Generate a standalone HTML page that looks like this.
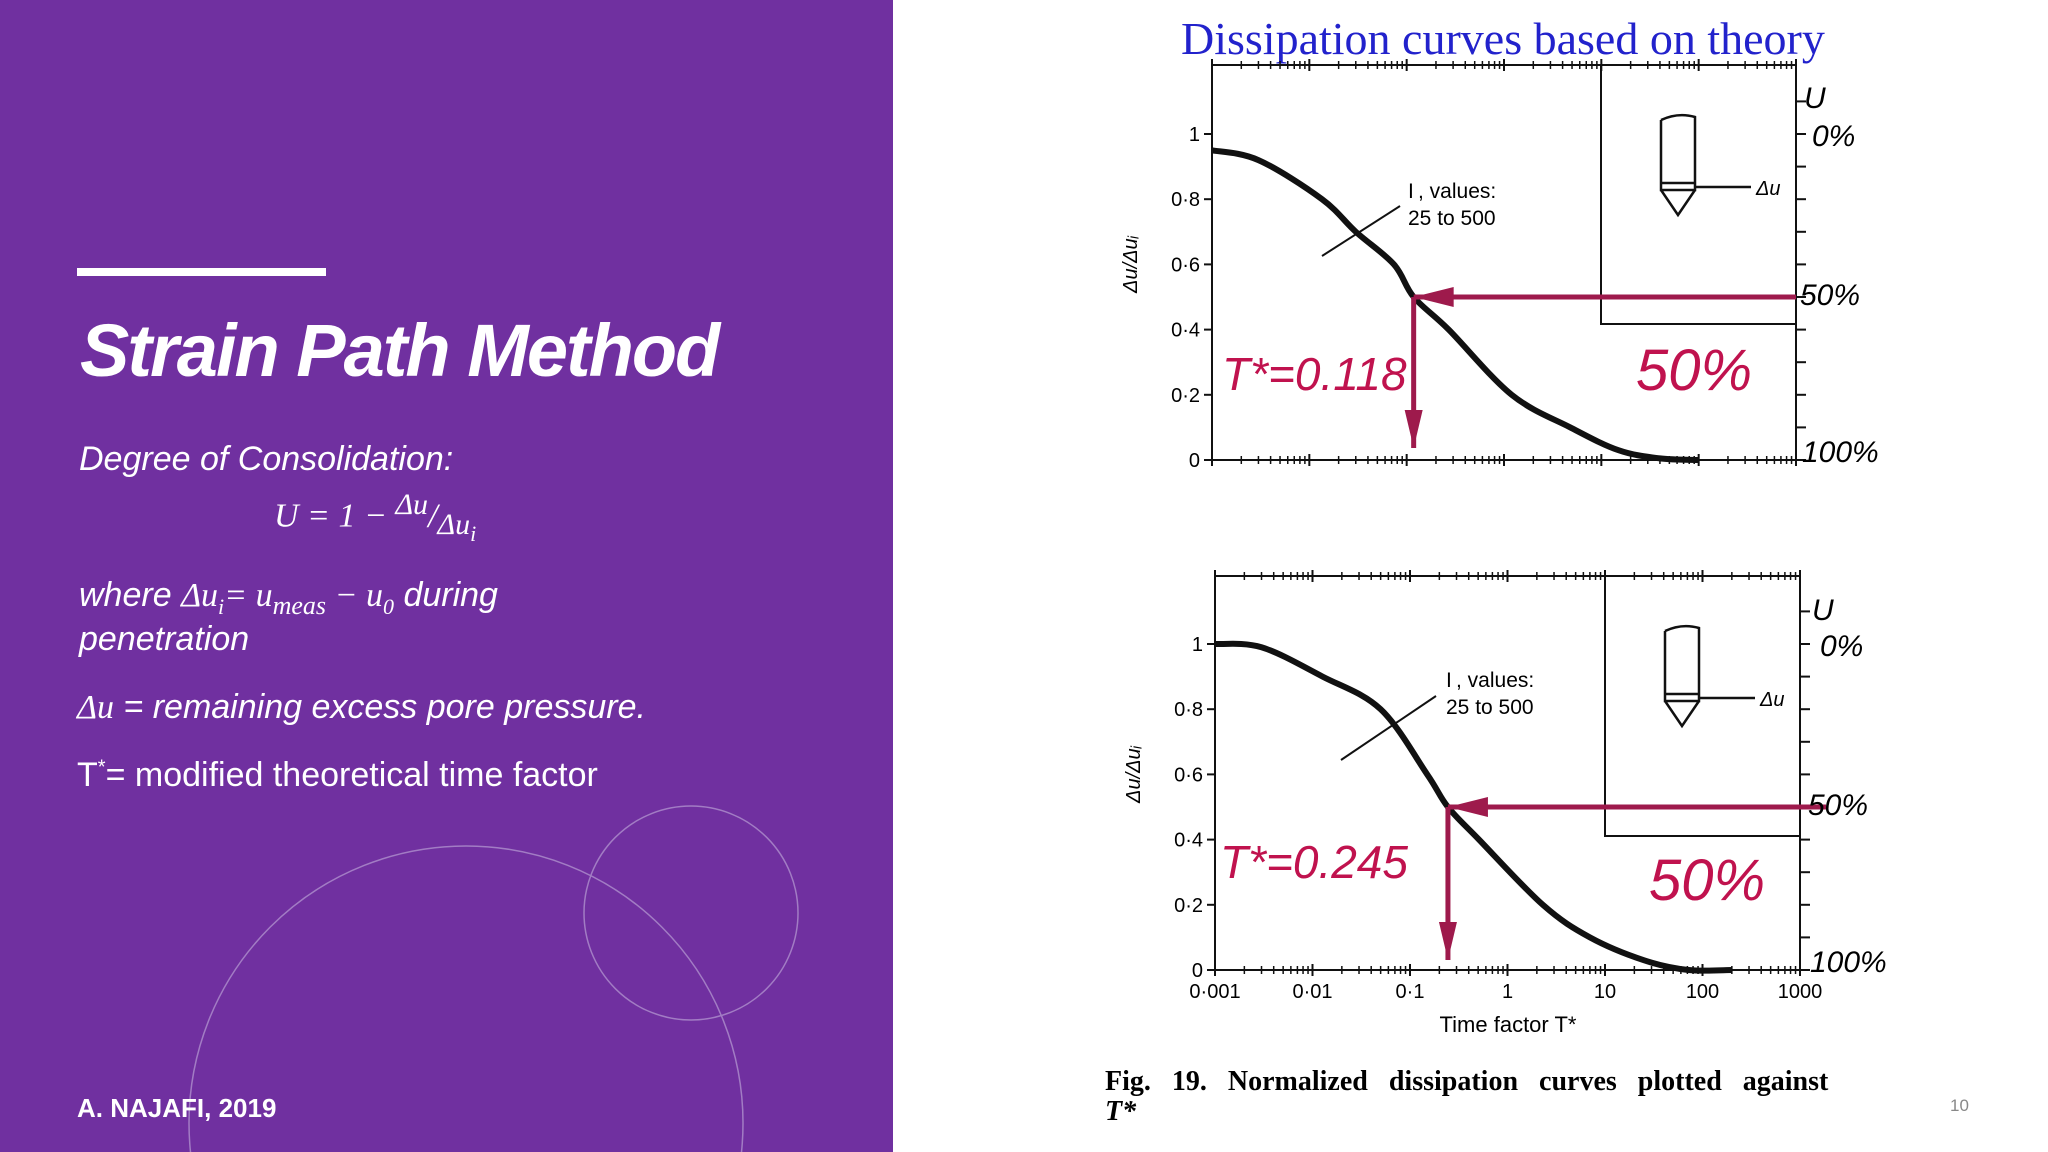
<!DOCTYPE html>
<html><head><meta charset="utf-8"><style>
html,body{margin:0;padding:0}
body{width:2048px;height:1152px;position:relative;overflow:hidden;background:#fff;font-family:"Liberation Sans",sans-serif}
.l{position:absolute;color:#fff;white-space:nowrap}
</style></head><body>
<div style="position:absolute;left:0;top:0;width:893px;height:1152px;background:#7030a0;overflow:hidden">
<svg width="893" height="1152" style="position:absolute;left:0;top:0">
<circle cx="466" cy="1123" r="277" fill="none" stroke="#a27cc4" stroke-width="1.5"/>
<circle cx="691" cy="913" r="107" fill="none" stroke="#a27cc4" stroke-width="1.5"/>
</svg>
<div style="position:absolute;left:77px;top:268px;width:249px;height:8px;background:#fff"></div>
<div class="l" style="left:80px;top:308px;font-size:74px;font-weight:bold;font-style:italic;letter-spacing:-2px">Strain Path Method</div>
<div class="l" style="left:79px;top:440px;font-size:34px;font-style:italic">Degree of Consolidation:</div>
<div class="l" style="left:274px;top:488px;font-size:34px;font-style:italic;font-family:'Liberation Serif',serif">U = 1 − <sup style="font-size:30px">Δu</sup>/<sub style="font-size:30px">Δu<sub style="font-size:22px">i</sub></sub></div>
<div class="l" style="left:79px;top:576px;font-size:34px;font-style:italic">where <span style="font-family:'Liberation Serif',serif">Δu<sub style="font-size:22px">i</sub>= u<sub style="font-size:26px">meas</sub> − u<sub style="font-size:22px">0</sub></span> during</div>
<div class="l" style="left:79px;top:620px;font-size:34px;font-style:italic">penetration</div>
<div class="l" style="left:77px;top:688px;font-size:34px;font-style:italic"><span style="font-family:'Liberation Serif',serif">Δu</span> = remaining excess pore pressure.</div>
<div class="l" style="left:77px;top:756px;font-size:34px">T<sup style="font-size:20px">*</sup>= modified theoretical time factor</div>
<div class="l" style="left:77px;top:1093px;font-size:26px;font-weight:bold">A. NAJAFI, 2019</div>
</div>
<div style="position:absolute;left:1181px;top:12px;font-family:'Liberation Serif',serif;font-size:46px;color:#2222cc;white-space:nowrap">Dissipation curves based on theory</div>
<svg id="ch" width="2048" height="1152" style="position:absolute;left:0;top:0"></svg>
<div style="position:absolute;left:1105px;top:1066px;font-family:'Liberation Serif',serif;font-size:28px;font-weight:bold;white-space:nowrap;word-spacing:14px">Fig. 19. Normalized dissipation curves plotted against</div>
<div style="position:absolute;left:1105px;top:1096px;font-family:'Liberation Serif',serif;font-size:28px;font-weight:bold;font-style:italic">T*</div>
<div style="position:absolute;left:1950px;top:1096px;font-size:17px;color:#888">10</div>
<script>
const topT=[0.001,0.003,0.0135,0.03,0.074,0.118,0.27,1.2,4.8,15,40,100];
const topU=[0.95,0.92,0.8,0.7,0.6,0.5,0.4,0.2,0.1,0.03,0.005,0];
const botT=[0.001,0.003,0.0127,0.05,0.15,0.245,0.51,2.3,7,25,72,200];
const botU=[1,0.99,0.9,0.8,0.6,0.5,0.4,0.2,0.1,0.03,0,0];
const yTicks=[0,0.2,0.4,0.6,0.8,1];
const yTickLabels=['0','0·2','0·4','0·6','0·8','1'];
const xTicks=[0.001,0.01,0.1,1,10,100,1000];
const xTickLabels=['0·001','0·01','0·1','1','10','100','1000'];
const topTstar=0.118, botTstar=0.245;
const S=document.getElementById('ch');const NS='http://www.w3.org/2000/svg';
function el(t,a,txt){const e=document.createElementNS(NS,t);for(const k in a)e.setAttribute(k,a[k]);if(txt!==undefined)e.textContent=txt;S.appendChild(e);return e;}
function smooth(P){let d='M'+P[0][0].toFixed(1)+' '+P[0][1].toFixed(1);
 for(let i=0;i<P.length-1;i++){const p0=P[i-1]||P[i],p1=P[i],p2=P[i+1],p3=P[i+2]||p2;
  d+=' C'+(p1[0]+(p2[0]-p0[0])/6).toFixed(1)+' '+(p1[1]+(p2[1]-p0[1])/6).toFixed(1)+' '+(p2[0]-(p3[0]-p1[0])/6).toFixed(1)+' '+(p2[1]-(p3[1]-p1[1])/6).toFixed(1)+' '+p2[0].toFixed(1)+' '+p2[1].toFixed(1);}
 return d;}
function chart(c){
 const X=t=>c.x0+(Math.log10(t)+3)*(c.x1-c.x0)/6;
 const Y=u=>c.y0+(c.y1-c.y0)*u;
 let b=el('rect',{x:c.x0,y:c.top,width:c.x1-c.x0,height:c.y0-c.top,fill:'none',stroke:'#111','stroke-width':2});
 
 let ins=el('rect',{x:c.ix,y:c.top,width:c.x1-c.ix,height:c.iy-c.top,fill:'none',stroke:'#111','stroke-width':2});
 
 const px=c.ix+60;
 let pr=el('path',{d:`M${px} ${c.top+55} L${px} ${c.top+125} L${px+34} ${c.top+125} L${px+34} ${c.top+52} Q${px+17} ${c.top+47} ${px} ${c.top+55} M${px} ${c.top+125} L${px+17} ${c.top+150} L${px+34} ${c.top+125} M${px} ${c.top+118} L${px+34} ${c.top+118} M${px+34} ${c.top+122} L${px+90} ${c.top+122}`,fill:'none',stroke:'#111','stroke-width':2.5});
 
 let du=el('text',{x:px+95,y:c.top+130,'font-size':20,'font-style':'italic'},'Δu');
 
 yTicks.forEach((v,i)=>{
  let tk=el('line',{x1:c.x0-8,x2:c.x0,y1:Y(v),y2:Y(v),stroke:'#111','stroke-width':2});
  
  let lb=el('text',{x:c.x0-12,y:Y(v)+7,'font-size':20,'text-anchor':'end'},yTickLabels[i]);
  
 });
 for(let v=0;v<=1.15;v+=0.1){
  let rt=el('line',{x1:c.x1,x2:c.x1+10,y1:Y(v),y2:Y(v),stroke:'#111','stroke-width':2});
  
 }
 xTicks.forEach((t,i)=>{
  [c.y0,c.top].forEach(yy=>{
  let tk=el('line',{x1:X(t),x2:X(t),y1:yy-6,y2:yy+6,stroke:'#111','stroke-width':2});
  
  if(i<6)for(let m=2;m<10;m++){let mt=el('line',{x1:X(t*m),x2:X(t*m),y1:yy-4,y2:yy+4,stroke:'#111','stroke-width':1.5});
  }
  });
  if(c.lab){let lb=el('text',{x:X(t),y:c.y0+28,'font-size':20,'text-anchor':'middle'},xTickLabels[i]);
  }
 });
 const P=c.T.map((t,i)=>[X(t),Y(c.U[i])]);
 let cv=el('path',{d:smooth(P),fill:'none',stroke:'#111','stroke-width':6,'stroke-linejoin':'round'});
 
 const ax=X(c.ts), ay=Y(0.5);
 let ar=el('path',{d:`M${c.ax1} ${ay} L${ax} ${ay} M${ax} ${ay} L${ax} ${c.ay1}`,fill:'none',stroke:'#9e1a4c','stroke-width':5});
 
 let h1=el('path',{d:`M${ax} ${ay} L${ax+40} ${ay-10} L${ax+40} ${ay+10}Z M${ax} ${c.ay1} L${ax-9} ${c.ay1-38} L${ax+9} ${c.ay1-38}Z`,fill:'#9e1a4c'});
 
 let ts=el('text',{x:c.tx,y:c.ty,'font-size':46,'font-style':'italic',fill:'#c0124e'},'T*='+c.ts);
 
 let fp=el('text',{x:c.fx,y:c.fy,'font-size':58,'font-style':'italic',fill:'#c0124e'},'50%');
 
 [['U',c.ux,c.uy],['0%',c.ux+8,Y(1)+12],['50%',c.ux-4,Y(0.5)+8],['100%',c.ux-2,Y(0)+2]].forEach(a=>{
  let u=el('text',{x:a[1],y:a[2],'font-size':30,'font-style':'italic'},a[0]);
  });
 let g1=el('text',{x:c.gx,y:c.gy,'font-size':21},'I');
 
 let g1b=el('text',{x:c.gx+10,y:c.gy,'font-size':21},', values:');
 
 let g2=el('text',{x:c.gx,y:c.gy+27,'font-size':21},'25 to 500');
 
 let pl=el('line',{x1:c.lx1,y1:c.ly1,x2:c.lx2,y2:c.ly2,stroke:'#111','stroke-width':2});
 
 let yt=el('text',{x:0,y:0,'font-size':20,'font-style':'italic',transform:`translate(${c.x0-75},${Y(0.6)}) rotate(-90)`,'text-anchor':'middle'},'Δu/Δuᵢ');
 
}
chart({n:'top',x0:1212,x1:1796,top:65,y0:460,y1:134,ix:1601,iy:324,T:topT,U:topU,ts:topTstar,ax1:1796,ay1:448,tx:1222,ty:390,fx:1636,fy:390,ux:1804,uy:108,gx:1408,gy:198,lx1:1322,ly1:256,lx2:1400,ly2:206,lab:false});
chart({n:'bottom',x0:1215,x1:1800,top:576,y0:970,y1:644,ix:1605,iy:836,T:botT,U:botU,ts:botTstar,ax1:1826,ay1:960,tx:1220,ty:878,fx:1649,fy:900,ux:1812,uy:620,gx:1446,gy:687,lx1:1341,ly1:760,lx2:1436,ly2:696,lab:true});
let xt=el('text',{x:1508,y:1032,'font-size':22,'text-anchor':'middle'},'Time factor T*');

</script>
</body></html>
